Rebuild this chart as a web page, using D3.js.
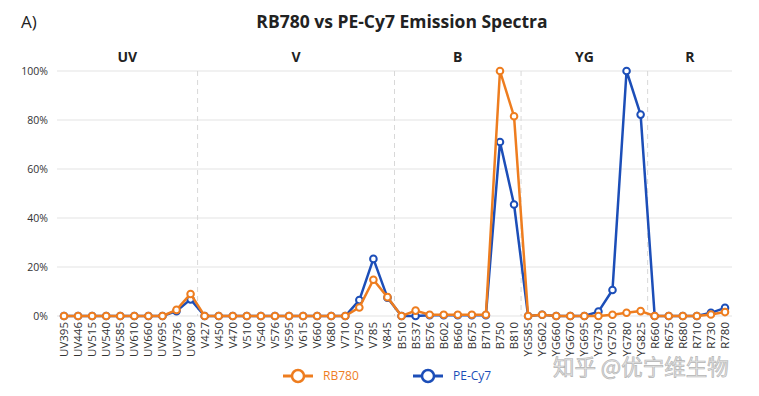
<!DOCTYPE html>
<html>
<head>
<meta charset="utf-8">
<script src="https://cdnjs.cloudflare.com/ajax/libs/d3/7.8.5/d3.min.js"></script>
<style>
  body { margin: 0; background: #fff; }
  svg { display: block; font-family: "Open Sans", "Noto Sans", sans-serif; }
</style>
</head>
<body>
<svg width="759" height="396"></svg>
<script>
var groups = [
	{ name: "UV", channels: ["UV395", "UV446", "UV515", "UV540", "UV585", "UV610", "UV660", "UV695", "UV736", "UV809"] },
	{ name: "V", channels: ["V427", "V450", "V470", "V510", "V540", "V576", "V595", "V615", "V660", "V680", "V710", "V750", "V785", "V845"] },
	{ name: "B", channels: ["B510", "B537", "B576", "B602", "B660", "B675", "B710", "B750", "B810"] },
	{ name: "YG", channels: ["YG585", "YG602", "YG660", "YG670", "YG695", "YG730", "YG750", "YG780", "YG825"] },
	{ name: "R", channels: ["R660", "R675", "R680", "R710", "R730", "R780"] }
];

var channels = [].concat(...groups.map(g => g.channels));

var rb780 = [
	0, 0, 0, 0, 0, 0, 0, 0, 2.5, 9,
	0, 0, 0, 0, 0, 0, 0, 0, 0, 0, 0, 3.5, 14.8, 7.7,
	0, 2.2, 0.5, 0.5, 0.5, 0.5, 0.5, 100, 81.5,
	0, 0.5, 0, 0, 0, 0, 0.5, 1.3, 2,
	0, 0, 0, 0, 0.6, 1.6
];

var pecy7 = [
	0, 0, 0, 0, 0, 0, 0, 0, 2, 6.8,
	0, 0, 0, 0, 0, 0, 0, 0, 0, 0, 0, 6.5, 23.3, 7.5,
	0, 0, 0.3, 0.3, 0.3, 0.3, 0.3, 71, 45.5,
	0, 0.5, 0, 0, 0, 1.8, 10.6, 100, 82.2,
	0, 0, 0, 0, 1.3, 3.3
];

var yTicks = [0, 20, 40, 60, 80, 100];

var series = [
	{ name: "RB780", values: rb780, color: "#ee7d1f" },
	{ name: "PE-Cy7", values: pecy7, color: "#1c4eb8" }
];

var svg = d3.select("svg");

var x = d3.scalePoint().domain(channels).range([64, 725]);
var y = d3.scaleLinear().domain([0, 100]).range([316, 71]);
var step = x.step();

// titles
svg.append("text").attr("x", 21).attr("y", 28)
	.attr("font-size", 17).attr("fill", "#222").text("A)");
svg.append("text").attr("x", 402).attr("y", 28)
	.attr("text-anchor", "middle").attr("font-size", 17.5).attr("font-weight", "bold")
	.attr("fill", "#222").text("RB780 vs PE-Cy7 Emission Spectra");

// grid
svg.append("g").selectAll("line")
	.data(yTicks).enter().append("line")
	.attr("x1", 57).attr("x2", 732)
	.attr("y1", d => y(d)).attr("y2", d => y(d))
	.attr("stroke", "#e3e3e3").attr("stroke-width", 1);

svg.append("g").selectAll("text")
	.data(yTicks).enter().append("text")
	.attr("x", 48).attr("y", d => y(d) + 4)
	.attr("text-anchor", "end").attr("font-size", 10.5).attr("fill", "#333")
	.text(d => d + "%");

// group separators and labels
var ends = [];
groups.forEach(function (g) {
	var first = x(g.channels[0]), last = x(g.channels[g.channels.length - 1]);
	ends.push(last + step / 2);
	svg.append("text").attr("x", (first + last) / 2).attr("y", 62)
		.attr("text-anchor", "middle").attr("font-size", 14).attr("font-weight", "bold")
		.attr("fill", "#222").text(g.name);
});
ends.pop();
svg.append("g").selectAll("line")
	.data(ends).enter().append("line")
	.attr("x1", d => d).attr("x2", d => d)
	.attr("y1", 71).attr("y2", 316)
	.attr("stroke", "#d8d8d8").attr("stroke-dasharray", "5,4");

// x labels
svg.append("g").selectAll("text")
	.data(channels).enter().append("text")
	.attr("transform", d => "translate(" + (x(d) + 4) + ",322) rotate(-90)")
	.attr("text-anchor", "end").attr("font-size", 11.5).attr("fill", "#333")
	.text(d => d);

var line = d3.line()
	.x((d, i) => x(channels[i]))
	.y(d => y(d));

// PE-Cy7 underneath, RB780 on top
series.slice().reverse().forEach(function (s) {
	svg.append("path")
		.datum(s.values)
		.attr("fill", "none")
		.attr("stroke", s.color)
		.attr("stroke-width", 2.5)
		.attr("stroke-linejoin", "round")
		.attr("d", line);
	svg.append("g").selectAll("circle")
		.data(s.values).enter().append("circle")
		.attr("cx", (d, i) => x(channels[i]))
		.attr("cy", d => y(d))
		.attr("r", 3.3)
		.attr("fill", "#fff")
		.attr("stroke", s.color)
		.attr("stroke-width", 2);
});

// legend
var legendX = [283, 413];
series.forEach(function (s, i) {
	var lx = legendX[i];
	svg.append("line").attr("x1", lx).attr("x2", lx + 30).attr("y1", 376).attr("y2", 376)
		.attr("stroke", s.color).attr("stroke-width", 3);
	svg.append("circle").attr("cx", lx + 15).attr("cy", 376).attr("r", 6)
		.attr("fill", "#fff").attr("stroke", s.color).attr("stroke-width", 2.5);
	svg.append("text").attr("x", lx + 40).attr("y", 380)
		.attr("font-size", 12).attr("fill", s.color).text(s.name);
});

// watermark
svg.append("text").attr("x", 553).attr("y", 375)
	.attr("font-family", "Noto Sans CJK SC").attr("font-size", 21.5)
	.attr("fill", "#e4e4e4").attr("stroke", "#b5b5b5").attr("stroke-width", 0.7)
	.text("知乎 @优宁维生物");
</script>
</body>
</html>
